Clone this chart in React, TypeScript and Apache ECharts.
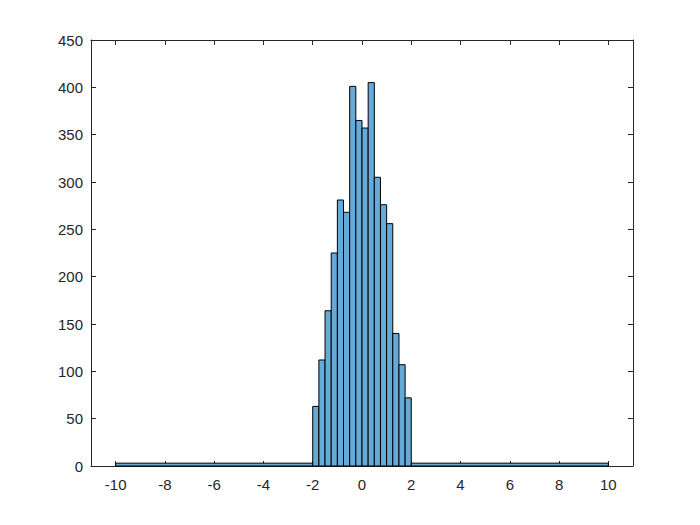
import React, { useEffect, useRef } from "react";
import * as echarts from "echarts";

const binEdges = [-10, -2, -1.75, -1.5, -1.25, -1, -0.75, -0.5, -0.25, 0, 0.25, 0.5, 0.75, 1, 1.25, 1.5, 1.75, 2, 10];
const counts = [3, 63, 112, 164, 225, 281, 268, 401, 365, 357, 405, 305, 276, 256, 140, 107, 72, 3];
const xTicks = [-10, -8, -6, -4, -2, 0, 2, 4, 6, 8, 10];
const yTicks = [0, 50, 100, 150, 200, 250, 300, 350, 400, 450];

export default function App() {
  const ref = useRef<HTMLDivElement>(null);
  useEffect(() => {
    const chart = echarts.init(ref.current!, null, { renderer: "svg" });
    const data = counts.map((c, i) => [binEdges[i], binEdges[i + 1], c]);
    const axisColor = "#262626";
    const font = { fontFamily: "Liberation Sans", fontSize: 15, color: axisColor };
    const xBase = {
      type: "value" as const,
      min: -11,
      max: 11,
      axisLine: { show: true, onZero: false, lineStyle: { color: axisColor, width: 1 } },
      axisTick: { show: true, inside: true, length: 5, customValues: xTicks, lineStyle: { color: axisColor } },
      splitLine: { show: false },
    };
    const yBase = {
      type: "value" as const,
      min: 0,
      max: 450,
      interval: 50,
      axisLine: { show: true, onZero: false, lineStyle: { color: axisColor, width: 1 } },
      axisTick: { show: true, inside: true, length: 5, lineStyle: { color: axisColor } },
      splitLine: { show: false },
    };
    chart.setOption({
      animation: false,
      backgroundColor: "#ffffff",
      grid: { left: 91, right: 67, top: 40, bottom: 59, containLabel: false },
      xAxis: [
        { ...xBase, position: "bottom", axisLabel: { ...font, margin: 11, customValues: xTicks } },
        { ...xBase, position: "top", axisLabel: { show: false } },
      ],
      yAxis: [
        { ...yBase, position: "left", axisLabel: { ...font, margin: 8 } },
        { ...yBase, position: "right", axisLabel: { show: false } },
      ],
      series: [
        {
          type: "custom",
          xAxisIndex: 0,
          yAxisIndex: 0,
          data,
          encode: { x: [0, 1], y: 2 },
          renderItem: (params: any, api: any) => {
            const p0 = api.coord([api.value(0), api.value(2)]);
            const p1 = api.coord([api.value(1), 0]);
            return {
              type: "rect",
              shape: { x: p0[0], y: p0[1], width: p1[0] - p0[0], height: p1[1] - p0[1] },
              style: { fill: "#66AAD7", stroke: "#000000", lineWidth: 1 },
            };
          },
        },
      ],
    });
    return () => chart.dispose();
  }, []);
  return <div ref={ref} style={{ position: "fixed", left: 0, top: 0, width: 700, height: 525 }} />;
}
